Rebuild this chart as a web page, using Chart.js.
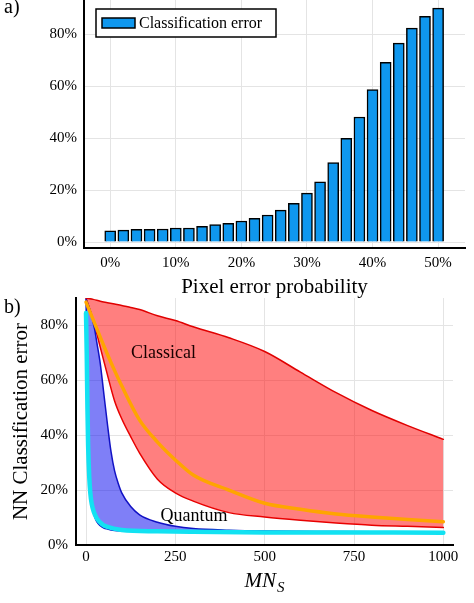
<!DOCTYPE html>
<html>
<head>
<meta charset="utf-8">
<script src="https://cdn.jsdelivr.net/npm/chart.js@4.4.1/dist/chart.umd.min.js"></script>
<style>
  html, body { margin: 0; padding: 0; background: #fff; }
  #wrap { position: relative; width: 474px; height: 603px; overflow: hidden; }
  .panel { position: absolute; left: 0; width: 474px; }
  #errorPanel { top: 0; height: 300px; }
  #sizePanel { top: 290px; height: 313px; }
</style>
</head>
<body>
<div id="wrap">
  <div class="panel" id="errorPanel"><canvas id="errorChart"></canvas></div>
  <div class="panel" id="sizePanel"><canvas id="sizeChart"></canvas></div>
</div>
<script>
const SERIF = "'Liberation Serif', 'DejaVu Serif', serif";
const GRID_COLOR = '#e4e4e4';
const BAR_BLUE = '#0f97ee';

// panel a) pixel error probability (%) vs classification error (%)
const PIXEL_ERROR = [0, 2, 4, 6, 8, 10, 12, 14, 16, 18, 20, 22, 24, 26, 28, 30, 32, 34, 36, 38, 40, 42, 44, 46, 48, 50];
const CLASSIFICATION_ERROR = [4.3, 4.6, 4.9, 4.9, 5.0, 5.4, 5.4, 6.0, 6.7, 7.2, 8.1, 9.1, 10.4, 12.3, 14.9, 18.8, 23.2, 30.6, 39.9, 48.1, 58.6, 69.1, 76.5, 82.3, 86.8, 90.0];
const PIXEL_TICKS = [0, 10, 20, 30, 40, 50];
const PERCENT_TICKS = [0, 20, 40, 60, 80];

// panel b) NN classification error (%) vs M*N_S
const CLASSICAL_X = [0, 20, 40, 60, 80, 100, 125, 150, 200, 250, 300, 400, 500, 600, 700, 800, 900, 1000];
const CLASSICAL_UPPER = [90, 89.5, 88.8, 88.3, 87.8, 87.3, 86.5, 85.8, 83.5, 81.8, 79.5, 75.5, 70.5, 63, 55.5, 49, 43.5, 38.5];
const CLASSICAL_LOWER = [90, 82, 72, 62, 52.5, 46, 39.5, 33.5, 24, 19, 16, 11.8, 10.2, 9, 8, 7.2, 6.8, 6.4];
const CLASSICAL_MEAN_X = [0, 25, 50, 75, 100, 150, 200, 250, 300, 400, 500, 600, 700, 800, 900, 1000];
const CLASSICAL_MEAN = [88.5, 80.5, 72.5, 65, 58, 45.5, 37.5, 31, 25.5, 20, 15.2, 13, 11.3, 10.2, 9.3, 8.5];
const QUANTUM_X = [0, 3, 6, 10, 15, 20, 25, 30, 40, 50, 60, 70, 80, 90, 100, 125, 150, 200, 250, 300, 400, 500, 700, 1000];
const QUANTUM_UPPER = [89.5, 88.5, 87.5, 86, 84, 81, 78, 74, 66, 55, 44, 34, 27, 22.5, 19, 14, 11, 8.3, 6.8, 6, 5.4, 5.1, 4.9, 4.7];
const QUANTUM_LOWER = [89, 70, 45, 26, 17, 12.5, 10, 8.5, 7, 6.2, 5.8, 5.5, 5.3, 5.2, 5.1, 5, 4.9, 4.8, 4.7, 4.7, 4.6, 4.5, 4.5, 4.4];
const QUANTUM_MEAN_X = [0, 2, 4, 6, 9, 12, 16, 22, 30, 45, 60, 100, 200, 300, 500, 1000];
const QUANTUM_MEAN = [84.5, 70, 50, 36, 25, 19, 15, 12, 9.7, 7.6, 6.6, 5.5, 5, 4.8, 4.6, 4.5];
const SIZE_TICKS = [0, 250, 500, 750, 1000];

const toPoints = (xs, ys) => xs.map((x, i) => ({ x: x, y: ys[i] }));
const pct = v => v + '%';

function fixTicks(list) {
    return function(scale) {
        scale.ticks = list.map(v => ({ value: v }));
    };
}
function fixSize(prop, size) {
    return function(scale) {
        scale[prop] = size;
        scale.paddingTop = 0;
        scale.paddingBottom = 0;
        scale.paddingLeft = 0;
        scale.paddingRight = 0;
    };
}

Chart.defaults.font.family = SERIF;
Chart.defaults.color = '#000';

const panelA = {
    id: 'panelA',
    afterDraw(chart) {
        const ctx = chart.ctx;
        const area = chart.chartArea;
        ctx.save();
        ctx.font = '20px ' + SERIF;
        ctx.fillStyle = '#000';
        ctx.textBaseline = 'middle';
        ctx.textAlign = 'left';
        ctx.fillText('a)', 4, 8);

        // legend box
        const bx = area.left + 12, by = area.top + 9, bw = 180, bh = 28;
        ctx.fillStyle = '#fff';
        ctx.fillRect(bx, by, bw, bh);
        ctx.strokeStyle = '#000';
        ctx.lineWidth = 1.5;
        ctx.strokeRect(bx, by, bw, bh);
        ctx.fillStyle = BAR_BLUE;
        ctx.fillRect(bx + 6, by + 9, 33, 10);
        ctx.strokeRect(bx + 6, by + 9, 33, 10);
        ctx.fillStyle = '#000';
        ctx.font = '16px ' + SERIF;
        ctx.fillText('Classification error', bx + 43, by + 14.5);
        ctx.restore();
    }
};

new Chart(document.getElementById('errorChart'), {
    type: 'bar',
    data: {
        datasets: [{
            label: 'Classification error',
            data: toPoints(PIXEL_ERROR, CLASSIFICATION_ERROR),
            backgroundColor: BAR_BLUE,
            borderColor: '#000',
            borderWidth: 1.5,
            barThickness: 11
        }]
    },
    options: {
        responsive: true,
        maintainAspectRatio: false,
        animation: false,
        events: [],
        layout: { padding: { left: 0, right: 9, top: 0, bottom: 0 } },
        scales: {
            x: {
                type: 'linear',
                min: -4,
                max: 54.1,
                offset: false,
                grid: { color: GRID_COLOR, offset: false, drawTicks: false },
                border: { color: '#000', width: 2 },
                ticks: { font: { size: 15 }, padding: 6, callback: pct },
                afterBuildTicks: fixTicks(PIXEL_TICKS),
                afterFit: fixSize('height', 52),
                title: { display: true, text: 'Pixel error probability', font: { size: 21 }, padding: { top: 0, bottom: 0 } }
            },
            y: {
                min: -2.3,
                max: 93.1,
                grid: { color: GRID_COLOR, drawTicks: false },
                border: { color: '#000', width: 2 },
                ticks: { font: { size: 15 }, padding: 7, callback: pct },
                afterBuildTicks: fixTicks(PERCENT_TICKS),
                afterFit: fixSize('width', 84)
            }
        },
        plugins: {
            legend: { display: false },
            tooltip: { enabled: false }
        }
    },
    plugins: [panelA]
});

const panelB = {
    id: 'panelB',
    afterDraw(chart) {
        const ctx = chart.ctx;
        const area = chart.chartArea;
        const xs = chart.scales.x, ys = chart.scales.y;
        ctx.save();
        ctx.fillStyle = '#000';
        ctx.textBaseline = 'middle';
        ctx.textAlign = 'left';
        ctx.font = '20px ' + SERIF;
        ctx.fillText('b)', 4, 18);

        ctx.textAlign = 'center';
        ctx.font = '18px ' + SERIF;
        ctx.fillStyle = '#1a0000';
        ctx.fillText('Classical', xs.getPixelForValue(217), ys.getPixelForValue(69.8));
        ctx.fillStyle = '#000';
        ctx.fillText('Quantum', xs.getPixelForValue(302), ys.getPixelForValue(10.5));

        // axis title M N_S
        ctx.textBaseline = 'alphabetic';
        ctx.textAlign = 'left';
        const main = 'MN';
        ctx.font = 'italic 15px ' + SERIF;
        const subW = ctx.measureText('S').width;
        ctx.font = 'italic 21px ' + SERIF;
        const mainW = ctx.measureText(main).width;
        const cx = (area.left + area.right) / 2;
        const x0 = cx - (mainW + subW + 1) / 2;
        ctx.fillText(main, x0, 297);
        ctx.font = 'italic 15px ' + SERIF;
        ctx.fillText('S', x0 + mainW + 1, 302);
        ctx.restore();
    }
};

const lineStyle = (color, width) => ({
    borderColor: color,
    borderWidth: width,
    pointRadius: 0,
    cubicInterpolationMode: 'monotone',
    borderCapStyle: 'round',
    borderJoinStyle: 'round'
});

new Chart(document.getElementById('sizeChart'), {
    type: 'line',
    data: {
        datasets: [
            { label: 'Quantum mean', data: toPoints(QUANTUM_MEAN_X, QUANTUM_MEAN), fill: false, ...lineStyle('#12e2f2', 4.5) },
            { label: 'Classical mean', data: toPoints(CLASSICAL_MEAN_X, CLASSICAL_MEAN), fill: false, ...lineStyle('#ffa500', 3.5) },
            { label: 'Quantum upper', data: toPoints(QUANTUM_X, QUANTUM_UPPER), fill: '+1', backgroundColor: 'rgba(0,0,240,0.5)', ...lineStyle('#1212c4', 1.5) },
            { label: 'Quantum lower', data: toPoints(QUANTUM_X, QUANTUM_LOWER), fill: false, ...lineStyle('#1212c4', 1.5) },
            { label: 'Classical upper', data: toPoints(CLASSICAL_X, CLASSICAL_UPPER), fill: '+1', backgroundColor: 'rgba(255,0,0,0.5)', ...lineStyle('#e00000', 1.5) },
            { label: 'Classical lower', data: toPoints(CLASSICAL_X, CLASSICAL_LOWER), fill: false, ...lineStyle('#e00000', 1.5) }
        ]
    },
    options: {
        responsive: true,
        maintainAspectRatio: false,
        animation: false,
        events: [],
        layout: { padding: { left: 0, right: 21, top: 8, bottom: 0 } },
        scales: {
            x: {
                type: 'linear',
                min: -28,
                max: 1027,
                grid: { color: GRID_COLOR, drawTicks: false },
                border: { color: '#000', width: 2 },
                ticks: { font: { size: 15 }, padding: 3, callback: v => String(v) },
                afterBuildTicks: fixTicks(SIZE_TICKS),
                afterFit: fixSize('height', 58)
            },
            y: {
                min: 0,
                max: 90,
                grid: { color: GRID_COLOR, drawTicks: false },
                border: { color: '#000', width: 2 },
                ticks: { font: { size: 15 }, padding: 8, callback: pct },
                afterBuildTicks: fixTicks(PERCENT_TICKS),
                afterFit: fixSize('width', 76),
                title: { display: true, text: 'NN Classification error', font: { size: 21 }, padding: { top: 9, bottom: 0 } }
            }
        },
        plugins: {
            legend: { display: false },
            tooltip: { enabled: false },
            filler: { propagate: false }
        }
    },
    plugins: [panelB]
});
</script>
</body>
</html>
